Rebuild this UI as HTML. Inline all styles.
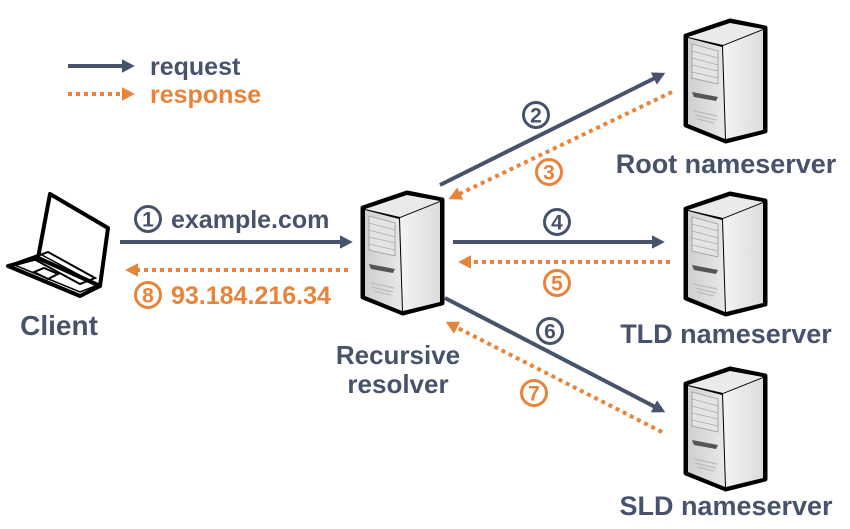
<!DOCTYPE html>
<html><head><meta charset="utf-8"><style>
html,body{margin:0;padding:0;background:#fff;}
svg{display:block;font-family:"Liberation Sans",sans-serif;font-weight:bold;}
</style></head><body>
<svg width="850" height="529" viewBox="0 0 850 529" xmlns="http://www.w3.org/2000/svg">
<defs>
<linearGradient id="gf" x1="0" y1="0" x2="1" y2="0"><stop offset="0" stop-color="#cfcfcf"/><stop offset="1" stop-color="#e8e8e8"/></linearGradient>
<linearGradient id="gs" x1="0" y1="0" x2="1" y2="0"><stop offset="0" stop-color="#f4f4f4"/><stop offset="1" stop-color="#dcdcdc"/></linearGradient>
<g id="srv">
<polygon points="1,16 45,1 80,8 80,111 41,121 1,105" fill="#000" stroke="#000" stroke-width="5" stroke-linejoin="round"/>
<polygon points="3,17 45,3 78,9 38,25" fill="#eaeaea"/>
<polygon points="38,26 78,10 78,110 41,119" fill="url(#gs)"/>
<polygon points="3,18 37,27 40,119 3,104" fill="url(#gf)"/>
<polygon points="7,24 33,31 33,64 7,58" fill="#e4e4e4" stroke="#999" stroke-width="0.8"/>
<line x1="7" y1="31" x2="33" y2="38" stroke="#aaa" stroke-width="0.8"/>
<line x1="7" y1="38" x2="33" y2="45" stroke="#aaa" stroke-width="0.8"/>
<line x1="7" y1="45" x2="33" y2="51" stroke="#aaa" stroke-width="0.8"/>
<line x1="7" y1="52" x2="33" y2="58" stroke="#aaa" stroke-width="0.8"/>
<polygon points="7,72 33,77 31,81 9,77" fill="#555"/>
<line x1="9" y1="91" x2="32" y2="96" stroke="#bbb" stroke-width="1.2"/>
<line x1="10" y1="95" x2="31" y2="100" stroke="#bbb" stroke-width="1.2"/>
<line x1="12" y1="99" x2="29" y2="103" stroke="#bbb" stroke-width="1.2"/>
</g>
<marker id="ad" markerWidth="4" markerHeight="4" refX="2" refY="2" orient="auto" markerUnits="strokeWidth"><path d="M0,0.3 L3.2,2 L0,3.7z" fill="#47536b"/></marker>
<marker id="ao" markerWidth="4" markerHeight="4" refX="2" refY="2" orient="auto" markerUnits="strokeWidth"><path d="M0,0.3 L3.2,2 L0,3.7z" fill="#e8833a"/></marker>
</defs>

<!-- legend -->
<line x1="68" y1="66" x2="130" y2="66" stroke="#47536b" stroke-width="4" marker-end="url(#ad)"/>
<text x="150" y="75" font-size="25" fill="#47536b">request</text>
<line x1="68" y1="94" x2="130" y2="94" stroke="#e8833a" stroke-width="4" stroke-dasharray="4,4" marker-end="url(#ao)"/>
<text x="150" y="103" font-size="25" fill="#e8833a">response</text>

<!-- laptop -->
<g fill="#fff" stroke="#000" stroke-width="4" stroke-linejoin="round">
<polygon points="50,194 108,228 100,286 38,258"/>
<polygon points="38,258 100,286 80,296 8,266"/>
</g>
<polygon points="12,264 40,254 98,285 80,292" fill="none" stroke="#000" stroke-width="1.5"/>
<polygon points="32,258 48,252 95,278 80,284" fill="none" stroke="#000" stroke-width="2"/>
<polygon points="34,272 44,268 58,274 48,279" fill="none" stroke="#000" stroke-width="2"/>
<text x="59" y="335" font-size="28" fill="#47536b" text-anchor="middle">Client</text>

<!-- servers -->
<use href="#srv" x="362" y="192"/>
<use href="#srv" x="685" y="20"/>
<use href="#srv" x="685" y="193"/>
<use href="#srv" x="685" y="368"/>
<text x="398" y="364" font-size="26" fill="#47536b" text-anchor="middle">Recursive</text>
<text x="398" y="393" font-size="26" fill="#47536b" text-anchor="middle">resolver</text>
<text x="726" y="173" font-size="27" fill="#47536b" text-anchor="middle">Root nameserver</text>
<text x="726" y="343" font-size="27" fill="#47536b" text-anchor="middle">TLD nameserver</text>
<text x="726" y="515" font-size="27" fill="#47536b" text-anchor="middle">SLD nameserver</text>

<!-- arrows -->
<line x1="120" y1="242" x2="348" y2="242" stroke="#47536b" stroke-width="4" marker-end="url(#ad)"/>
<line x1="348" y1="270" x2="130" y2="270" stroke="#e8833a" stroke-width="4" stroke-dasharray="4,4" marker-end="url(#ao)"/>
<line x1="440" y1="185" x2="661" y2="75" stroke="#47536b" stroke-width="4" marker-end="url(#ad)"/>
<line x1="672" y1="92" x2="453" y2="197" stroke="#e8833a" stroke-width="4" stroke-dasharray="4,4" marker-end="url(#ao)"/>
<line x1="453" y1="242" x2="660" y2="242" stroke="#47536b" stroke-width="4" marker-end="url(#ad)"/>
<line x1="670" y1="262" x2="463" y2="262" stroke="#e8833a" stroke-width="4" stroke-dasharray="4,4" marker-end="url(#ao)"/>
<line x1="445" y1="298" x2="661" y2="410" stroke="#47536b" stroke-width="4" marker-end="url(#ad)"/>
<line x1="662" y1="432" x2="450" y2="324" stroke="#e8833a" stroke-width="4" stroke-dasharray="4,4" marker-end="url(#ao)"/>

<!-- numbered labels -->
<g font-size="21" text-anchor="middle" stroke-width="3" fill="none">
<circle cx="148" cy="219" r="12.5" stroke="#47536b"/><text x="148" y="226.5" fill="#47536b" stroke="none">1</text>
<circle cx="148" cy="295" r="12.5" stroke="#e8833a"/><text x="148" y="302.5" fill="#e8833a" stroke="none">8</text>
<circle cx="536" cy="115" r="12.5" stroke="#47536b"/><text x="536" y="122.5" fill="#47536b" stroke="none">2</text>
<circle cx="549" cy="172" r="12.5" stroke="#e8833a"/><text x="549" y="179.5" fill="#e8833a" stroke="none">3</text>
<circle cx="557" cy="222" r="12.5" stroke="#47536b"/><text x="557" y="229.5" fill="#47536b" stroke="none">4</text>
<circle cx="557" cy="283" r="12.5" stroke="#e8833a"/><text x="557" y="290.5" fill="#e8833a" stroke="none">5</text>
<circle cx="550" cy="331" r="12.5" stroke="#47536b"/><text x="550" y="338.5" fill="#47536b" stroke="none">6</text>
<circle cx="534" cy="393" r="12.5" stroke="#e8833a"/><text x="534" y="400.5" fill="#e8833a" stroke="none">7</text>
</g>
<text x="171" y="228" font-size="25" fill="#47536b">example.com</text>
<text x="171" y="304" font-size="25" fill="#e8833a">93.184.216.34</text>
</svg>
</body></html>
